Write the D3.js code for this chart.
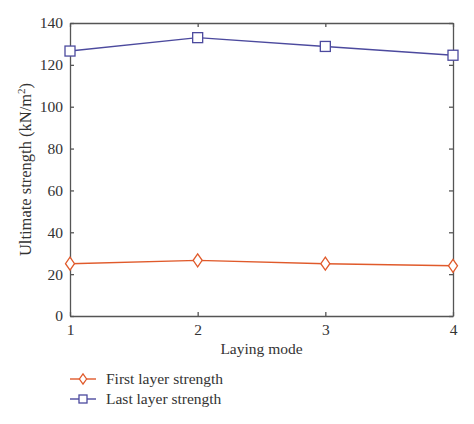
<!DOCTYPE html>
<html>
<head>
<meta charset="utf-8">
<script src="https://cdn.jsdelivr.net/npm/d3@7"></script>
<style>
  body { margin: 0; background: #fff; }
  svg text { font-family: "Liberation Serif", "DejaVu Serif", serif; fill: #333; }
</style>
</head>
<body>
<div id="chart"></div>
<script>
// data
const modes = [1, 2, 3, 4];
const firstLayer = [25, 26.6, 25, 24];
const lastLayer = [126.6, 133, 128.8, 124.6];
const yTicks = [0, 20, 40, 60, 80, 100, 120, 140];

const w = 474, h = 424;
const margin = {left: 70, right: 21, top: 23, bottom: 108};

const svg = d3.select('#chart').append('svg')
	.attr('width', w)
	.attr('height', h);

const x = d3.scaleLinear().domain([1, 4]).range([margin.left, w - margin.right]);
const y = d3.scaleLinear().domain([0, 140]).range([h - margin.bottom, margin.top]);

const axisColor = '#555';

// axes with inward ticks
svg.append('g')
	.attr('transform', `translate(0,${y(0)})`)
	.call(d3.axisBottom(x).tickValues(modes).tickFormat(d3.format('d')).tickSizeInner(-4).tickSizeOuter(0).tickPadding(8));
svg.append('g')
	.attr('transform', `translate(${x(1)},0)`)
	.call(d3.axisLeft(y).tickValues(yTicks).tickSizeInner(-4).tickSizeOuter(0).tickPadding(7));
// mirrored top/right ticks
svg.append('g')
	.attr('transform', `translate(0,${y(140)})`)
	.call(d3.axisTop(x).tickValues(modes).tickFormat('').tickSizeInner(-4).tickSizeOuter(0));
svg.append('g')
	.attr('transform', `translate(${x(4)},0)`)
	.call(d3.axisRight(y).tickValues(yTicks).tickFormat('').tickSizeInner(-4).tickSizeOuter(0));

svg.selectAll('.domain, .tick line').attr('stroke', axisColor).attr('stroke-width', 1.3);
svg.selectAll('.tick text').attr('font-size', 15.5).style('fill', '#333');

// axis titles
svg.append('text')
	.attr('x', (x(1) + x(4)) / 2)
	.attr('y', y(0) + 38)
	.attr('text-anchor', 'middle')
	.attr('font-size', 15.5)
	.text('Laying mode');

const yl = svg.append('text')
	.attr('transform', `translate(31,${(y(0) + y(140)) / 2}) rotate(-90)`)
	.attr('text-anchor', 'middle')
	.attr('font-size', 16.5);
yl.append('tspan').text('Ultimate strength (kN/m');
yl.append('tspan').attr('font-size', 11).attr('dy', -6).text('2');
yl.append('tspan').attr('dy', 6).text(')');

const series = [
	{name: 'First layer strength', values: firstLayer, color: '#e05a2b', marker: 'diamond'},
	{name: 'Last layer strength', values: lastLayer, color: '#4c4a9e', marker: 'square'}
];

const line = d3.line().x((d, i) => x(modes[i])).y(d => y(d));

function drawMarker(g, type, color, s) {
	if (type === 'diamond') {
		g.append('path').attr('d', `M0,${-6.5 * s}L${4.5 * s},0L0,${6.5 * s}L${-4.5 * s},0Z`)
			.attr('fill', '#fff').attr('stroke', color).attr('stroke-width', 1.3);
	} else {
		g.append('rect').attr('x', -5 * s).attr('y', -5 * s).attr('width', 10 * s).attr('height', 10 * s)
			.attr('fill', '#fff').attr('stroke', color).attr('stroke-width', 1.3);
	}
}

series.forEach(s => {
	svg.append('path')
		.datum(s.values)
		.attr('d', line)
		.attr('fill', 'none')
		.attr('stroke', s.color)
		.attr('stroke-width', 1.4);
	s.values.forEach((v, i) => {
		const g = svg.append('g').attr('transform', `translate(${x(modes[i])},${y(v)})`);
		drawMarker(g, s.marker, s.color, 1);
	});
});

// legend
series.forEach((s, i) => {
	const ly = 379 + i * 20;
	svg.append('line')
		.attr('x1', 70).attr('x2', 96).attr('y1', ly).attr('y2', ly)
		.attr('stroke', s.color).attr('stroke-width', 1.4);
	drawMarker(svg.append('g').attr('transform', `translate(83,${ly})`), s.marker, s.color, 0.8);
	svg.append('text')
		.attr('x', 106).attr('y', ly)
		.attr('dy', '0.35em')
		.attr('font-size', 15.5)
		.text(s.name);
});
</script>
</body>
</html>
